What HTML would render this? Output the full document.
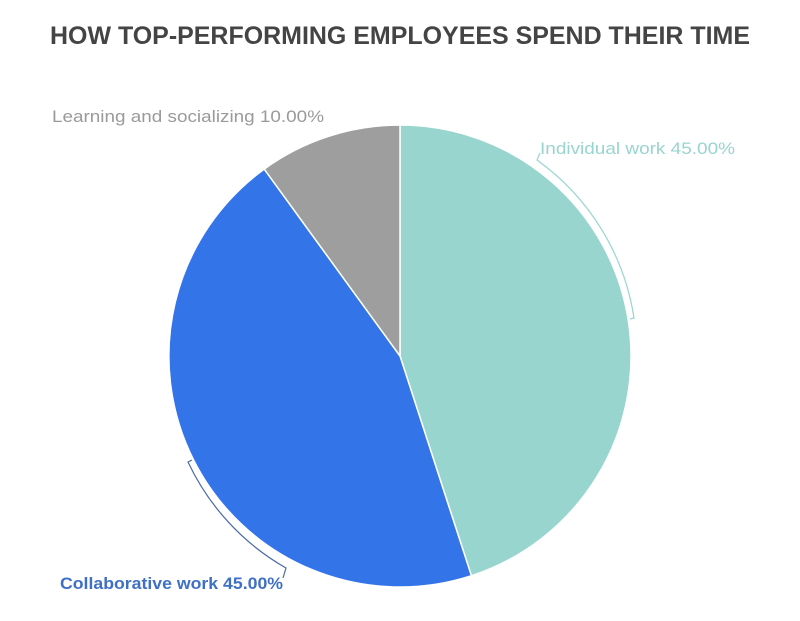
<!DOCTYPE html>
<html><head><meta charset="utf-8"><style>body{margin:0;background:#fff}svg{display:block}</style></head>
<body>
<svg width="800" height="621" viewBox="0 0 800 621" xmlns="http://www.w3.org/2000/svg" font-family="Liberation Sans, sans-serif">
<text x="400" y="44" text-anchor="middle" font-size="25" font-weight="bold" fill="#444" textLength="700" lengthAdjust="spacingAndGlyphs">HOW TOP-PERFORMING EMPLOYEES SPEND THEIR TIME</text>
<g stroke="#fff" stroke-width="1.5">
<path d="M400,356 L400,125 A231,231 0 0,1 471.4,575.7 Z" fill="#98d5cf"/>
<path d="M400,356 L471.4,575.7 A231,231 0 0,1 264.2,169.1 Z" fill="#3375e8"/>
<path d="M400,356 L264.2,169.1 A231,231 0 0,1 400,125 Z" fill="#9e9e9e"/>
</g>
<g fill="none" stroke-width="1.2">
<path d="M540,153 L537,160 A239,239 0 0,1 634,318 L630,319" stroke="#98d5cf"/>
<path d="M192,460 L188,462 A239,239 0 0,0 286,568 L283,578" stroke="#4a6aa8"/>
</g>
<text x="52" y="122" font-size="16.5" fill="#9a9a9a" textLength="272" lengthAdjust="spacingAndGlyphs">Learning and socializing 10.00%</text>
<text x="540" y="154" font-size="16.5" fill="#98d5cf" textLength="195" lengthAdjust="spacingAndGlyphs">Individual work 45.00%</text>
<text x="60" y="589" font-size="16.5" font-weight="bold" fill="#3f70c6" textLength="223" lengthAdjust="spacingAndGlyphs">Collaborative work 45.00%</text>
</svg>
</body></html>
